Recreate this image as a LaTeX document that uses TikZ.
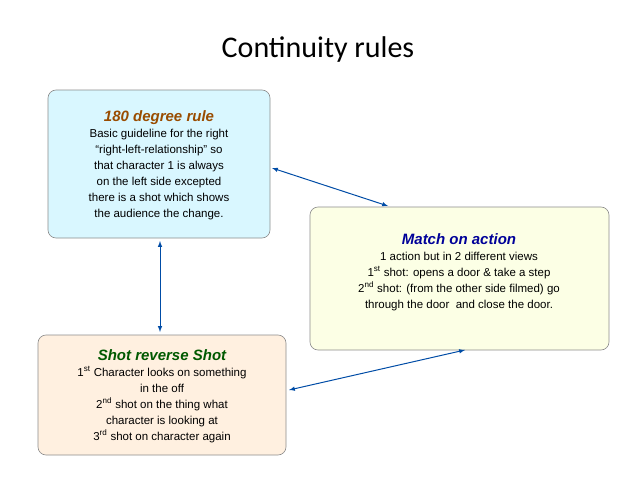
\documentclass[tikz,border=0pt]{standalone}
\usepackage{fontspec}
\setmainfont{Liberation Sans}
\newfontfamily\calfont{Carlito}
\begin{document}
\begin{tikzpicture}[x=1pt,y=-1pt,
 box/.style={draw=black!45,rounded corners=8pt,line width=0.6pt,align=center,inner sep=0pt},
 arr/.style={<->,>=latex,draw=blue!50!black!70!cyan,line width=1pt}]
\useasboundingbox (0,0) rectangle (638,479);
\node[font=\calfont\fontsize{30}{30}\selectfont] (t) at (318,50) {Continuity rules};
\filldraw[box,fill=blue!22!cyan!15] (48,90) rectangle (270,238);
\node[align=center,font=\fontsize{11.5}{16}\selectfont] (at) at (159,165) {{\fontsize{15}{18}\selectfont\bfseries\itshape\color{orange!60!black}180 degree rule}\\Basic guideline for the right\\``right-left-relationship'' so\\that character 1 is always\\on the left side excepted\\there is a shot which shows\\the audience the change.};
\filldraw[box,fill=green!12!yellow!10] (310,207) rectangle (609,350);
\node[align=center,font=\fontsize{11.5}{16}\selectfont] (bt) at (459,272) {{\fontsize{15}{18}\selectfont\bfseries\itshape\color{blue!60!black}Match on action}\\1 action but in 2 different views\\1\textsuperscript{st} shot: opens a door \& take a step\\2\textsuperscript{nd} shot: (from the other side filmed) go\\through the door\ \ and close the door.};
\filldraw[box,fill=orange!12] (38,335) rectangle (286,455);
\node[align=center,font=\fontsize{11.5}{16}\selectfont] (ct) at (162,396) {{\fontsize{15}{18}\selectfont\bfseries\itshape\color{green!35!black}Shot reverse Shot}\\1\textsuperscript{st} Character looks on something\\in the off\\2\textsuperscript{nd} shot on the thing what\\character is looking at\\3\textsuperscript{rd} shot on character again};
\coordinate (p1) at (272,168); \coordinate (p2) at (388,206);
\coordinate (q1) at (160,241); \coordinate (q2) at (160,332);
\coordinate (r1) at (289,390); \coordinate (r2) at (465,350);
\draw[arr] (p1) -- (p2);
\draw[arr] (q1) -- (q2);
\draw[arr] (r1) -- (r2);
\end{tikzpicture}
\end{document}
